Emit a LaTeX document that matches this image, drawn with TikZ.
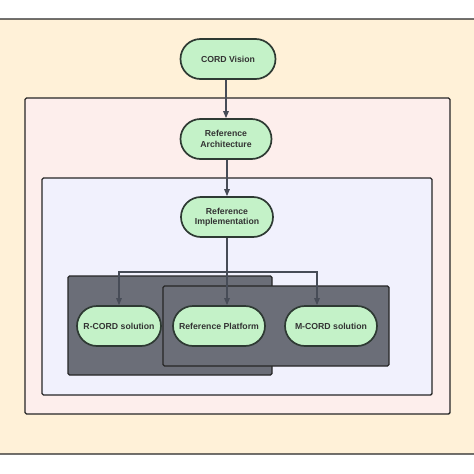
\documentclass[tikz,border=0pt]{standalone}
\usepackage{fontspec}
\setsansfont{Liberation Sans}
\usetikzlibrary{arrows.meta,positioning}
\definecolor{cordyellow}{HTML}{FFF1D8}
\definecolor{cordpink}{HTML}{FDEEEC}
\definecolor{cordblue}{HTML}{F1F1FD}
\definecolor{cordgray}{HTML}{6B6E78}
\definecolor{cordgreen}{HTML}{C4F2C8}
\definecolor{cordedge}{HTML}{2E3A33}
\definecolor{cordline}{HTML}{474C57}
\tikzset{
  frame/.style   = {draw=black!85, line width=1.4pt, rounded corners=1.5pt},
  stage/.style   = {draw=cordedge, line width=1.7pt, fill=cordgreen, rounded corners=20pt,
                    font=\sffamily\bfseries\fontsize{8.7}{10.5}\selectfont, text=black!80,
                    align=center, inner sep=0pt, minimum height=40pt},
  link/.style    = {draw=cordline, line width=1.3pt, -{Triangle[length=7pt,width=5.5pt]}}
}
\begin{document}
\begin{tikzpicture}[x=1pt,y=-1pt]
\useasboundingbox (0,0) rectangle (474,474);

% nested frames, outermost first
\draw[frame, fill=cordyellow] (-3,19) rectangle (477,454);
\draw[frame, fill=cordpink] (25,98) rectangle (450,414);
\draw[frame, fill=cordblue] (42,178) rectangle (432,395);
\draw[frame, fill=cordgray] (68,276) rectangle (272,375);
\draw[frame, fill=cordgray] (163,286) rectangle (389,366);

% the stages
\node[stage, minimum width=95pt] (vision) at (228,59) {CORD Vision};
\node[stage, minimum width=91pt] (arch) at (226,139) {Reference\\Architecture};
\node[stage, minimum width=92pt] (impl) at (227,217) {Reference\\Implementation};

% the solutions, one row
\node[stage, minimum width=84pt] (rcord) at (119,326) {R-CORD solution};
\node[stage, minimum width=92pt] (platform) at (219,326) {Reference Platform};
\node[stage, minimum width=92pt] (mcord) at (331,326) {M-CORD solution};

% arrows
\draw[link] (vision.south -| arch.north) -- (arch.north);
\draw[link] (arch.south -| impl.north) -- (impl.north);
\coordinate (bus) at (227,272);
\draw[link] (impl.south) -- (impl.south |- platform.north);
\draw[link] (bus) -| (rcord.north);
\draw[link] (bus) -| ([xshift=-14pt]mcord.north);
\end{tikzpicture}
\end{document}
